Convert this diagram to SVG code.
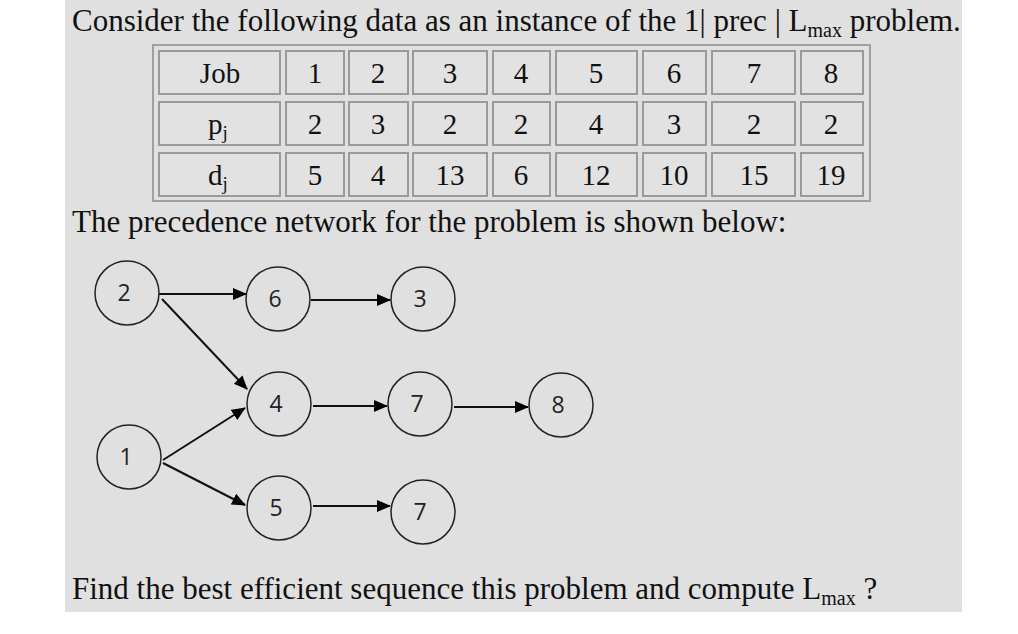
<svg xmlns="http://www.w3.org/2000/svg" width="1018" height="634" viewBox="0 0 1018 634">
<defs>
<marker id="ah" markerWidth="14" markerHeight="14" refX="13" refY="7" orient="auto" markerUnits="userSpaceOnUse"><path d="M0,1 L14,7 L0,13 z" fill="#000"/></marker>
<style>
.t{font-family:"Liberation Serif",serif;font-size:31px;fill:#111}
.c{font-family:"Liberation Serif",serif;font-size:29px;fill:#111;text-anchor:middle}
.cell{fill:#e2e2e2;stroke:#9a9a9a;stroke-width:2}
.n circle{fill:none;stroke:#222;stroke-width:1.5}
.n text{font-family:"Open Sans","DejaVu Sans",sans-serif;font-size:23px;text-anchor:middle;fill:#222}
.e line{stroke:#111;stroke-width:2;marker-end:url(#ah)}
</style>
</defs>
<rect width="1018" height="634" fill="#fff"/>
<rect x="65" y="0" width="897" height="612" fill="#e0e0e0"/>
<text class="t" x="72" y="31">Consider the following data as an instance of the 1| prec | L<tspan font-size="20" dy="6">max</tspan><tspan dy="-6"> problem.</tspan></text>
<g id="table">
<rect x="153" y="45" width="717" height="156" fill="none" stroke="#a0a0a0" stroke-width="2"/>
<g id="r1">
<rect class="cell" x="159" y="51" width="121" height="43"/><text class="c" x="220" y="83">Job</text>
<rect class="cell" x="286" y="51" width="58" height="43"/><text class="c" x="315" y="83">1</text>
<rect class="cell" x="349" y="51" width="59" height="43"/><text class="c" x="378" y="83">2</text>
<rect class="cell" x="413" y="51" width="74" height="43"/><text class="c" x="450" y="83">3</text>
<rect class="cell" x="493" y="51" width="57" height="43"/><text class="c" x="521" y="83">4</text>
<rect class="cell" x="556" y="51" width="81" height="43"/><text class="c" x="596" y="83">5</text>
<rect class="cell" x="643" y="51" width="63" height="43"/><text class="c" x="674" y="83">6</text>
<rect class="cell" x="712" y="51" width="83" height="43"/><text class="c" x="754" y="83">7</text>
<rect class="cell" x="801" y="51" width="62" height="43"/><text class="c" x="831" y="83">8</text>
</g>
<g id="r2">
<rect class="cell" x="159" y="102" width="121" height="43"/><text class="c" x="218" y="134">p<tspan font-size="19" dy="5">j</tspan></text>
<rect class="cell" x="286" y="102" width="58" height="43"/><text class="c" x="315" y="134">2</text>
<rect class="cell" x="349" y="102" width="59" height="43"/><text class="c" x="378" y="134">3</text>
<rect class="cell" x="413" y="102" width="74" height="43"/><text class="c" x="450" y="134">2</text>
<rect class="cell" x="493" y="102" width="57" height="43"/><text class="c" x="521" y="134">2</text>
<rect class="cell" x="556" y="102" width="81" height="43"/><text class="c" x="596" y="134">4</text>
<rect class="cell" x="643" y="102" width="63" height="43"/><text class="c" x="674" y="134">3</text>
<rect class="cell" x="712" y="102" width="83" height="43"/><text class="c" x="754" y="134">2</text>
<rect class="cell" x="801" y="102" width="62" height="43"/><text class="c" x="831" y="134">2</text>
</g>
<g id="r3">
<rect class="cell" x="159" y="153" width="121" height="43"/><text class="c" x="218" y="185">d<tspan font-size="19" dy="5">j</tspan></text>
<rect class="cell" x="286" y="153" width="58" height="43"/><text class="c" x="315" y="185">5</text>
<rect class="cell" x="349" y="153" width="59" height="43"/><text class="c" x="378" y="185">4</text>
<rect class="cell" x="413" y="153" width="74" height="43"/><text class="c" x="450" y="185">13</text>
<rect class="cell" x="493" y="153" width="57" height="43"/><text class="c" x="521" y="185">6</text>
<rect class="cell" x="556" y="153" width="81" height="43"/><text class="c" x="596" y="185">12</text>
<rect class="cell" x="643" y="153" width="63" height="43"/><text class="c" x="674" y="185">10</text>
<rect class="cell" x="712" y="153" width="83" height="43"/><text class="c" x="754" y="185">15</text>
<rect class="cell" x="801" y="153" width="62" height="43"/><text class="c" x="831" y="185">19</text>
</g>
</g>
<text class="t" x="72" y="232">The precedence network for the problem is shown below:</text>
<g class="e" id="connectors">
<line x1="159" y1="294" x2="246" y2="294"/>
<line x1="311" y1="300" x2="390" y2="300"/>
<line x1="162" y1="299" x2="247" y2="389"/>
<line x1="163" y1="460" x2="245" y2="408"/>
<line x1="163" y1="463" x2="245" y2="505"/>
<line x1="313" y1="406" x2="387" y2="406"/>
<line x1="454" y1="407" x2="528" y2="407"/>
<line x1="313" y1="506" x2="390" y2="506"/>
</g>
<g class="n" id="n2"><circle cx="127" cy="293" r="32"/><text x="124" y="301">2</text></g>
<g class="n" id="n6"><circle cx="278" cy="299" r="32"/><text x="275" y="307">6</text></g>
<g class="n" id="n3"><circle cx="423" cy="299" r="32"/><text x="420" y="307">3</text></g>
<g class="n" id="n4"><circle cx="279" cy="404" r="32"/><text x="276" y="412">4</text></g>
<g class="n" id="n7"><circle cx="420" cy="404" r="32"/><text x="417" y="412">7</text></g>
<g class="n" id="n8"><circle cx="561" cy="405" r="32"/><text x="558" y="413">8</text></g>
<g class="n" id="n1"><circle cx="129" cy="457" r="32"/><text x="126" y="465">1</text></g>
<g class="n" id="n5"><circle cx="279" cy="508" r="32"/><text x="276" y="516">5</text></g>
<g class="n" id="n7b"><circle cx="423" cy="512" r="32"/><text x="420" y="520">7</text></g>
<text class="t" x="72" y="599">Find the best efficient sequence this problem and compute L<tspan font-size="20" dy="6">max</tspan><tspan dy="-6"> ?</tspan></text>
</svg>
